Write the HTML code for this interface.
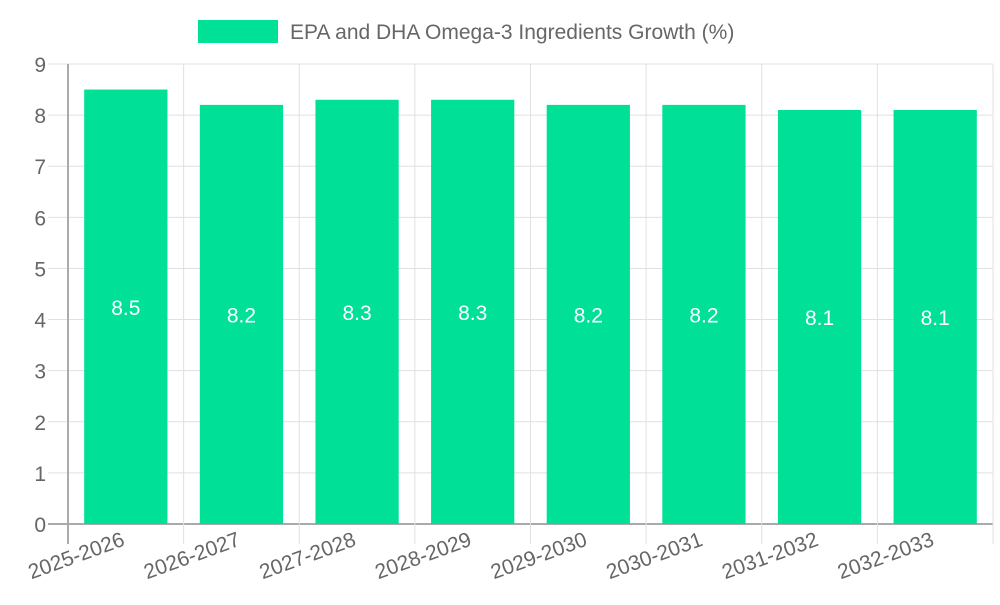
<!DOCTYPE html>
<html><head><meta charset="utf-8"><style>
body{margin:0;background:#fff;}
svg text{font-family:"Liberation Sans",sans-serif;}
</style></head><body>
<svg id="chart" width="1000" height="600">
<g>
<rect x="198" y="20" width="80" height="23" fill="#00e096"></rect>
<text x="290" y="39" font-size="21" fill="#666">EPA and DHA Omega-3 Ingredients Growth (%)</text>
</g>
<g id="grid"></g><g id="bars"></g><g id="labels"></g>
</svg>
<script>
const categories=["2025-2026","2026-2027","2027-2028","2028-2029","2029-2030","2030-2031","2031-2032","2032-2033"];
const values=[8.5,8.2,8.3,8.3,8.2,8.2,8.1,8.1];
const yTicks=[0,1,2,3,4,5,6,7,8,9];
const NS="http://www.w3.org/2000/svg";
const L=68,R=993,T=64,B=524,yMax=9;
const bw=(R-L)/categories.length;
const y=v=>B-(B-T)*v/yMax;
const x=i=>L+bw*i;
function mk(tag,attrs,parent){const e=document.createElementNS(NS,tag);for(const k in attrs)e.setAttribute(k,attrs[k]);document.getElementById(parent).appendChild(e);return e;}
yTicks.forEach(t=>{
 const g=mk('line',{x1:48,x2:R,y1:y(t),y2:y(t),stroke:t===0?'#aaa':'#e0e0e0','stroke-width':t===0?2:1},'grid');
 
 
 const tx=mk('text',{x:46,y:y(t)+8,'text-anchor':'end','font-size':21,fill:'#666'},'grid');
 tx.textContent=t;
 
 
});
for(let i=0;i<=categories.length;i++){
 const g=mk('line',{x1:x(i),x2:x(i),y1:T,y2:B+20,stroke:i===0?'#aaa':'#e0e0e0','stroke-width':i===0?2:1},'grid');
 
 
}
categories.forEach((c,i)=>{
 const cx=x(i)+bw/2,w=bw*0.72;
 const r=mk('rect',{x:cx-w/2,y:y(values[i]),width:w,height:B-y(values[i]),fill:'#00e096'},'bars');
 
 
 const v=mk('text',{x:cx,y:(y(values[i])+B)/2+8,'text-anchor':'middle','font-size':21,fill:'#fff'},'labels');
 v.textContent=values[i];
 
 
 const t=mk('text',{x:cx,y:545,'text-anchor':'end','font-size':21,fill:'#666',transform:`rotate(-20 ${cx} 545)`},'labels');
 t.textContent=c;
 
 
});
</script>
</body></html>
